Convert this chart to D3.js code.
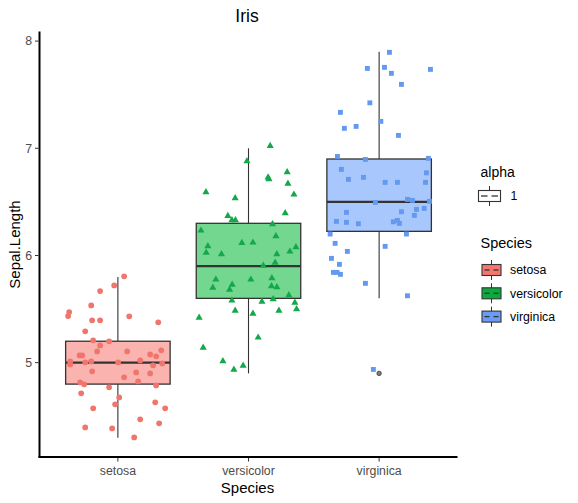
<!DOCTYPE html>
<html>
<head>
<meta charset="utf-8">
<script src="https://cdn.jsdelivr.net/npm/d3@7"></script>
<style>
  html, body { margin:0; padding:0; background:#fff; }
  text { font-family: "Liberation Sans", Arial, sans-serif; }
</style>
</head>
<body>
<div id="chart"></div>
<script>
// ====== données
const SPECIES = ["setosa", "versicolor", "virginica"];
const Y_TICKS = [5, 6, 7, 8];

// stats des boîtes : moustache basse, Q1, médiane, Q3, moustache haute
const WHISK_LO = [4.3, 4.9, 5.6];
const Q1       = [4.8, 5.6, 6.225];
const MEDIAN   = [5.0, 5.9, 6.5];
const Q3       = [5.2, 6.3, 6.9];
const WHISK_HI = [5.8, 7.0, 7.9];
const OUTLIERS = [{sp: 2, v: 4.9}];

// points jitterés : décalage horizontal (en unités de catégorie) et valeur
const SETOSA_DX = [0.048,-0.028,-0.136,-0.204,-0.373,-0.381,-0.197,-0.136,0.087,0.309,
  -0.250,-0.189,-0.067,-0.136,-0.159,0.071,0.332,-0.293,-0.273,0.247,
  0.293,-0.365,-0.365,-0.250,-0.204,0.002,0.171,0.339,0.270,-0.197,
  0.140,0.247,0.048,0.155,-0.289,-0.258,-0.067,0.293,-0.281,0.010,
  -0.021,0.286,-0.189,0.362,0.171,0.316,-0.250,-0.044,0.125];
const SETOSA_V = [5.805,5.721,5.668,5.534,5.472,5.435,5.395,5.395,5.432,5.376,
  5.292,5.208,5.199,5.161,5.105,5.105,5.115,5.068,5.068,5.077,
  5.059,5.012,4.984,5.003,5.012,5.003,5.021,4.993,4.975,4.919,
  4.909,4.900,4.863,4.825,4.816,4.798,4.770,4.788,4.714,4.676,
  4.611,4.630,4.574,4.574,4.471,4.434,4.396,4.387,4.303];

const VERSI_DX = [0.166,-0.012,0.296,0.156,0.150,0.302,-0.326,-0.102,0.348,-0.158,
  -0.127,-0.100,0.281,0.184,-0.364,0.210,-0.051,0.034,-0.311,0.363,
  -0.324,0.317,-0.207,0.217,0.204,0.113,-0.250,0.018,0.179,-0.125,
  -0.273,-0.145,0.176,0.217,0.309,-0.127,0.103,0.189,0.355,-0.102,
  0.034,0.233,0.368,-0.378,0.074,-0.347,-0.196,-0.112,-0.041];
const VERSI_V = [7.030,6.887,6.785,6.719,6.735,6.678,6.598,6.542,6.576,6.377,
  6.337,6.337,6.402,6.299,6.240,6.187,6.125,6.128,6.094,6.085,
  6.034,6.044,6.020,6.020,5.941,5.913,5.783,5.783,5.796,5.736,
  5.708,5.689,5.721,5.712,5.637,5.587,5.577,5.600,5.568,5.493,
  5.465,5.493,5.507,5.428,5.242,5.148,5.021,4.943,4.980];

const VIRGI_DX = [0.079,-0.090,0.041,0.094,0.393,0.171,-0.071,-0.296,0.013,-0.266,
  -0.176,0.148,-0.319,-0.105,0.377,-0.289,0.362,-0.235,-0.120,0.046,
  0.140,0.355,0.217,0.255,0.385,-0.028,0.345,0.286,-0.250,0.171,
  0.270,-0.327,-0.250,-0.159,0.109,0.140,0.155,-0.375,0.209,-0.337,
  0.046,-0.243,-0.365,-0.304,-0.350,-0.322,-0.296,-0.105,0.217,-0.044];
const VIRGI_V = [7.895,7.745,7.755,7.699,7.736,7.596,7.424,7.335,7.251,7.186,
  7.204,7.120,6.924,6.896,6.906,6.803,6.771,6.710,6.729,6.682,
  6.682,6.682,6.523,6.514,6.505,6.495,6.439,6.430,6.402,6.408,
  6.374,6.318,6.309,6.296,6.314,6.327,6.299,6.200,6.200,6.113,
  6.085,6.038,5.973,5.917,5.842,5.842,5.824,5.740,5.624,4.937];

// ====== styles
const BOX_FILL  = ["#FAB3AE", "#74D78F", "#A8C7FC"];
const PT_COLOR  = ["#EF756D", "#13A84A", "#6399EE"];
const KEY_FILL  = ["#F4766F", "#0BAA3E", "#6A9CF5"];
const SYMBOLS   = [d3.symbolCircle, d3.symbolTriangle, d3.symbolSquare];
const SYM_SIZE  = [26, 22, 24];
const INK = "#333333", TICK_TXT = "#4D4D4D";

const W = 578, H = 503;
const svg = d3.select("#chart").append("svg")
  .attr("width", W).attr("height", H)
  .style("background", "#fff");

// ====== échelles
const x = d3.scaleLinear().domain([0.4, 3.6]).range([39.5, 457.5]);
const y = d3.scaleLinear().domain([4.12, 8.08]).range([457, 32.5]);
const bw = x(1.4) - x(1.0); // demi-largeur de boîte

// ====== boîtes
const boxes = SPECIES.map((s, i) => ({i, lo: WHISK_LO[i], q1: Q1[i], med: MEDIAN[i], q3: Q3[i], hi: WHISK_HI[i]}));
const gb = svg.append("g");
boxes.forEach(b => {
  const cx = x(b.i + 1);
  gb.append("line").attr("x1", cx).attr("x2", cx).attr("y1", y(b.hi)).attr("y2", y(b.q3))
    .attr("stroke", INK).attr("stroke-width", 1.1);
  gb.append("line").attr("x1", cx).attr("x2", cx).attr("y1", y(b.q1)).attr("y2", y(b.lo))
    .attr("stroke", INK).attr("stroke-width", 1.1);
  gb.append("rect").attr("x", cx - bw).attr("width", 2 * bw)
    .attr("y", y(b.q3)).attr("height", y(b.q1) - y(b.q3))
    .attr("fill", BOX_FILL[b.i]).attr("stroke", INK).attr("stroke-width", 1.3);
  gb.append("line").attr("x1", cx - bw).attr("x2", cx + bw).attr("y1", y(b.med)).attr("y2", y(b.med))
    .attr("stroke", INK).attr("stroke-width", 2.3);
});

// outliers
gb.selectAll("circle.out").data(OUTLIERS).join("circle")
  .attr("class", "out")
  .attr("cx", d => x(d.sp + 1)).attr("cy", d => y(d.v)).attr("r", 2.2)
  .attr("fill", "#7F7F7F").attr("stroke", INK).attr("stroke-width", 0.8);

// ====== points
const PTS = [[SETOSA_DX, SETOSA_V], [VERSI_DX, VERSI_V], [VIRGI_DX, VIRGI_V]];
PTS.forEach(([dx, vs], i) => {
  const sym = d3.symbol().type(SYMBOLS[i]).size(SYM_SIZE[i]);
  svg.append("g").selectAll("path").data(vs.map((v, k) => ({v, dx: dx[k]}))).join("path")
    .attr("d", sym)
    .attr("transform", d => `translate(${x(i + 1 + d.dx)},${y(d.v) + (i === 1 ? 0.8 : 0)})`)
    .attr("fill", PT_COLOR[i]);
});

// ====== axes
const ax = svg.append("g");
ax.append("line").attr("x1", 39.5).attr("x2", 39.5).attr("y1", 31.5).attr("y2", 457.5)
  .attr("stroke", "#000").attr("stroke-width", 2);
ax.append("line").attr("x1", 38.5).attr("x2", 457.5).attr("y1", 457).attr("y2", 457)
  .attr("stroke", "#000").attr("stroke-width", 2);

Y_TICKS.forEach(t => {
  ax.append("line").attr("x1", 35).attr("x2", 38.5).attr("y1", y(t)).attr("y2", y(t))
    .attr("stroke", INK).attr("stroke-width", 1);
  ax.append("text").attr("x", 32).attr("y", y(t)).attr("dy", "0.35em")
    .attr("text-anchor", "end").attr("font-size", 12.3).attr("fill", TICK_TXT).text(t);
});
SPECIES.forEach((s, i) => {
  ax.append("line").attr("x1", x(i + 1)).attr("x2", x(i + 1)).attr("y1", 458).attr("y2", 461.5)
    .attr("stroke", INK).attr("stroke-width", 1);
  ax.append("text").attr("x", x(i + 1)).attr("y", 475)
    .attr("text-anchor", "middle").attr("font-size", 12.3).attr("fill", TICK_TXT).text(s);
});

// titres
svg.append("text").attr("x", 247).attr("y", 22).attr("text-anchor", "middle")
  .attr("font-size", 17.5).attr("fill", "#000").text("Iris");
svg.append("text").attr("x", 247.5).attr("y", 493).attr("text-anchor", "middle")
  .attr("font-size", 15).attr("fill", "#000").text("Species");
svg.append("text").attr("transform", "translate(20,244.5) rotate(-90)").attr("text-anchor", "middle")
  .attr("font-size", 15).attr("fill", "#000").text("Sepal.Length");

// ====== légendes
const lg = svg.append("g");
lg.append("text").attr("x", 480.5).attr("y", 176.5).attr("font-size", 14).attr("fill", "#000").text("alpha");
function key(cx, cy, fill, w) {
  lg.append("line").attr("x1", cx).attr("x2", cx).attr("y1", cy - 10).attr("y2", cy + 10)
    .attr("stroke", INK).attr("stroke-width", 1);
  lg.append("rect").attr("x", cx - w / 2).attr("y", cy - 5.5).attr("width", w).attr("height", 11)
    .attr("fill", fill).attr("stroke", INK).attr("stroke-width", 1.1);
  lg.append("line").attr("x1", cx - w / 2 + 2.5).attr("x2", cx - 2).attr("y1", cy).attr("y2", cy)
    .attr("stroke", INK).attr("stroke-width", 1.3);
  lg.append("line").attr("x1", cx + 2).attr("x2", cx + w / 2 - 2.5).attr("y1", cy).attr("y2", cy)
    .attr("stroke", INK).attr("stroke-width", 1.3);
}
key(489.5, 196, "#fff", 22);
lg.append("text").attr("x", 510.5).attr("y", 196).attr("dy", "0.35em").attr("font-size", 12.3).text("1");

lg.append("text").attr("x", 480.5).attr("y", 248).attr("font-size", 14.5).attr("fill", "#000").text("Species");
SPECIES.forEach((s, i) => {
  const cy = 270 + i * 23.3;
  key(491.5, cy, KEY_FILL[i], 19);
  lg.append("text").attr("x", 510).attr("y", cy).attr("dy", "0.35em").attr("font-size", 12.3).text(s);
});
</script>
</body>
</html>
